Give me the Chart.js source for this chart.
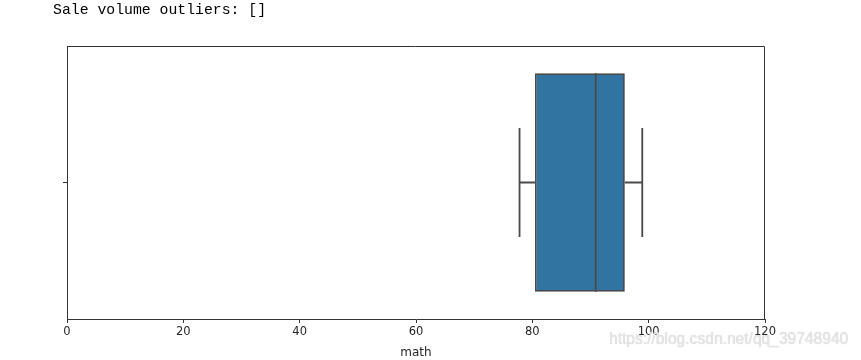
<!DOCTYPE html>
<html>
<head>
<meta charset="utf-8">
<script src="https://cdn.jsdelivr.net/npm/chart.js@4/dist/chart.umd.min.js"></script>
<style>
  body { margin: 0; background: #fff; }
  #wrap { position: relative; width: 861px; height: 360px; }
  #note {
    position: absolute; left: 53px; top: 2px;
    font-family: "Liberation Mono", monospace; font-size: 14.8px; color: #000;
  }
  #mark {
    position: absolute; left: 609px; top: 330px;
    font-family: "Liberation Sans", Arial, sans-serif; font-size: 15.6px;
    color: #e6e6e6; text-shadow: 0 0 1px #c4c4c4;
  }
</style>
</head>
<body>
<div id="wrap">
  <canvas id="box" width="861" height="360"></canvas>
  <div id="note">Sale volume outliers: []</div>
  <div id="mark">https://blog.csdn.net/qq_39748940</div>
</div>
<script>
var categories = [""];
var whiskerLow = [77.8];
var q1 = [80.45];
var median = [90.9];
var q3 = [95.9];
var whiskerHigh = [98.9];
var xTicks = [0, 20, 40, 60, 80, 100, 120];

var lineColor = "#4a4a4a";

var boxLines = {
  id: "boxLines",
  afterDatasetsDraw: function (chart) {
    var ctx = chart.ctx;
    var xs = chart.scales.x;
    var meta = chart.getDatasetMeta(0);
    ctx.save();
    ctx.strokeStyle = lineColor;
    ctx.lineWidth = 1.8;
    meta.data.forEach(function (bar, i) {
      var y = bar.y;
      var h = bar.height;
      var lo = xs.getPixelForValue(whiskerLow[i]);
      var hi = xs.getPixelForValue(whiskerHigh[i]);
      var a = xs.getPixelForValue(q1[i]);
      var b = xs.getPixelForValue(q3[i]);
      var m = xs.getPixelForValue(median[i]);
      ctx.beginPath();
      ctx.moveTo(lo, y); ctx.lineTo(a, y);
      ctx.moveTo(b, y); ctx.lineTo(hi, y);
      ctx.moveTo(lo, y - h / 4); ctx.lineTo(lo, y + h / 4);
      ctx.moveTo(hi, y - h / 4); ctx.lineTo(hi, y + h / 4);
      ctx.moveTo(m, y - h / 2); ctx.lineTo(m, y + h / 2);
      ctx.stroke();
    });
    // top and right spines
    var ca = chart.chartArea;
    ctx.strokeStyle = "#333333";
    ctx.lineWidth = 1;
    ctx.beginPath();
    ctx.moveTo(ca.left, ca.top + 0.5);
    ctx.lineTo(ca.right - 0.5, ca.top + 0.5);
    ctx.lineTo(ca.right - 0.5, ca.bottom);
    ctx.stroke();
    ctx.restore();
  }
};

var ctx = document.getElementById("box").getContext("2d");
new Chart(ctx, {
  type: "bar",
  data: {
    labels: categories,
    datasets: [{
      data: q1.map(function (v, i) { return [v, q3[i]]; }),
      backgroundColor: "#3274a1",
      borderColor: lineColor,
      borderWidth: 1.8,
      borderSkipped: false,
      categoryPercentage: 0.8,
      barPercentage: 1.0
    }]
  },
  options: {
    indexAxis: "y",
    responsive: false,
    animation: false,
    layout: { padding: { top: 46, right: 96, left: 0, bottom: 0 } },
    plugins: { legend: { display: false }, tooltip: { enabled: false } },
    scales: {
      x: {
        type: "linear",
        min: 0,
        max: 120,
        afterBuildTicks: function (scale) {
          scale.ticks = xTicks.map(function (v) { return { value: v }; });
        },
        afterFit: function (scale) { scale.height = 41; },
        grid: { drawOnChartArea: false, tickLength: 4, color: "#333333" },
        border: { color: "#333333" },
        ticks: {
          color: "#262626",
          padding: 2,
          maxRotation: 0,
          font: { family: "DejaVu Sans", size: 11.5 }
        },
        title: {
          display: true,
          text: "math",
          color: "#262626",
          padding: { top: 1, bottom: 0 },
          font: { family: "DejaVu Sans", size: 12 }
        }
      },
      y: {
        type: "category",
        afterFit: function (scale) { scale.width = 67; },
        grid: { drawOnChartArea: false, offset: false, tickLength: 4, color: "#333333" },
        border: { color: "#333333" },
        ticks: { font: { family: "DejaVu Sans", size: 11.5 } }
      }
    }
  },
  plugins: [boxLines]
});
</script>
</body>
</html>
